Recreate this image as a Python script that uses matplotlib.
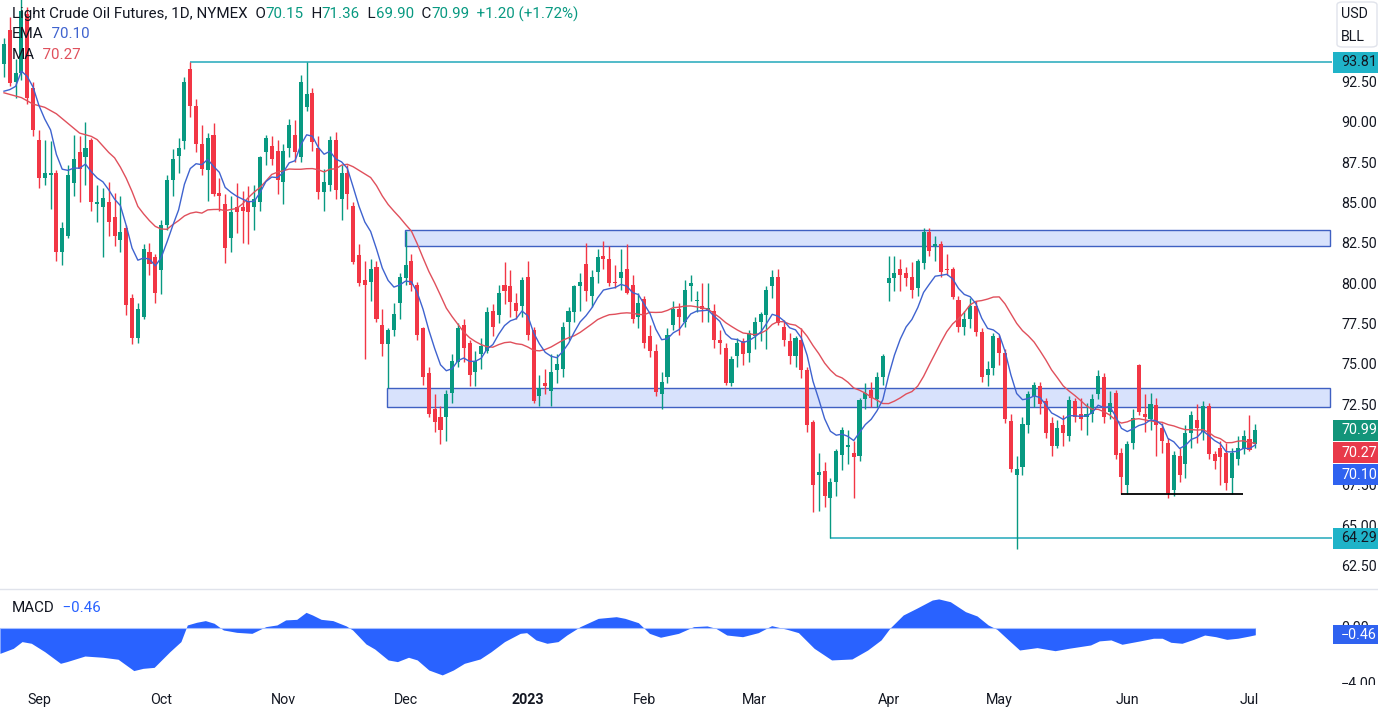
import numpy as np
import pandas as pd
import matplotlib
matplotlib.use("Agg")
import matplotlib.pyplot as plt
from matplotlib.patches import Rectangle, FancyBboxPatch
from matplotlib.lines import Line2D
from matplotlib.transforms import blended_transform_factory

# ---- data (daily bars, 24 Aug 2022 .. 5 Jul 2023) ----
opens = [93.7, 95.8, 92.6, 93.1, 96.8, 92.2, 89.0, 86.6, 86.8, 86.9,
         82.0, 83.0, 86.3, 88.2, 87.9, 89.0, 85.0, 84.8, 85.1, 84.2,
         82.8, 83.5, 79.2, 76.7, 78.0, 82.0, 81.7, 80.9, 83.7, 86.5,
         88.0, 88.9, 93.4, 91.1, 88.7, 87.1, 89.3, 85.7, 85.0, 82.9,
         84.8, 84.8, 85.2, 84.8, 85.1, 88.2, 88.6, 88.3, 86.4, 88.5,
         89.3, 87.9, 91.0, 91.9, 88.5, 85.75, 86.2, 89.0, 85.3, 86.9,
         84.9, 81.85, 80.3, 80.2, 81.1, 77.5, 76.3, 77.2, 78.9, 80.4,
         81.5, 80.0, 77.3, 74.5, 72.3, 71.8, 71.8, 73.3, 75.2, 77.5,
         76.4, 74.6, 75.7, 75.9, 78.4, 78.1, 80.0, 79.9, 78.9, 78.7,
         80.5, 77.2, 73.1, 73.9, 73.4, 74.7, 74.8, 77.7, 78.3, 79.9,
         81.3, 79.3, 80.8, 81.8, 81.6, 80.2, 80.4, 81.0, 80.0, 78.0,
         79.1, 76.8, 75.9, 73.2, 74.3, 77.5, 78.5, 77.7, 79.9, 79.0,
         78.7, 78.45, 78.4, 76.6, 76.1, 73.9, 75.6, 76.5, 75.8, 76.8,
         77.7, 78.1, 79.9, 80.5, 77.4, 76.5, 75.6, 76.6, 74.7, 71.5,
         68.2, 68.45, 66.8, 67.8, 69.45, 69.95, 69.6, 69.4, 72.9, 73.5,
         72.9, 74.3, 80.1, 80.4, 81.0, 80.7, 80.5, 79.8, 81.35, 83.3,
         82.4, 82.5, 81.0, 81.0, 79.05, 77.4, 77.9, 78.7, 77.07, 74.4,
         74.85, 76.7, 75.8, 71.55, 68.2, 68.7, 71.3, 73.1, 73.7, 72.8,
         71.4, 70.0, 71.3, 70.6, 72.8, 72.0, 71.8, 72.0, 73.2, 74.3,
         72.1, 73.3, 69.6, 67.6, 70.2, 75.0, 72.0, 71.7, 72.55, 71.1,
         70.2, 67.3, 69.4, 68.9, 70.8, 71.6, 70.9, 72.5, 69.5, 69.85,
         69.55, 68.0, 69.2, 69.8, 70.45, 70.15]
highs = [95.3, 96.6, 94.0, 97.7, 97.2, 92.6, 89.6, 89.0, 88.9, 87.1,
         83.9, 87.4, 89.3, 89.2, 90.1, 89.1, 86.2, 86.0, 86.4, 85.7,
         85.5, 83.7, 79.4, 78.9, 82.5, 82.6, 81.9, 84.0, 86.8, 88.4,
         89.1, 92.9, 93.81, 91.5, 89.9, 89.4, 90.0, 86.6, 85.6, 85.5,
         86.3, 85.8, 86.1, 86.2, 88.0, 89.3, 89.2, 89.0, 88.7, 90.3,
         90.2, 93.0, 93.81, 92.2, 89.2, 87.2, 89.2, 89.5, 87.4, 87.4,
         85.1, 82.5, 81.5, 81.6, 81.5, 78.5, 77.3, 78.9, 80.7, 83.34,
         81.9, 80.2, 77.4, 74.9, 73.2, 72.5, 73.5, 75.7, 77.6, 77.9,
         76.6, 75.9, 76.7, 78.6, 78.8, 80.0, 81.4, 80.9, 79.5, 80.5,
         81.5, 77.4, 74.4, 74.8, 75.7, 75.7, 77.7, 78.6, 80.0, 80.7,
         82.6, 80.9, 82.2, 82.7, 82.4, 81.2, 82.2, 82.5, 80.6, 79.5,
         79.3, 77.5, 76.3, 74.6, 77.3, 79.0, 78.9, 80.3, 80.6, 79.6,
         80.1, 80.1, 78.8, 77.2, 76.4, 75.6, 76.7, 76.7, 77.2, 78.0,
         78.3, 79.9, 80.9, 81.0, 77.8, 77.0, 76.8, 77.3, 74.9, 71.6,
         69.6, 69.0, 68.0, 69.8, 71.2, 71.0, 70.3, 73.0, 73.9, 74.0,
         74.6, 75.7, 81.8, 81.8, 81.6, 81.1, 81.4, 81.6, 83.5, 83.5,
         83.0, 82.7, 81.9, 81.1, 79.3, 78.4, 79.2, 79.0, 77.3, 75.3,
         77.0, 76.9, 76.0, 72.0, 69.4, 71.8, 73.4, 74.0, 74.0, 73.0,
         71.8, 71.6, 71.9, 73.1, 73.0, 73.0, 72.7, 73.2, 74.7, 74.5,
         73.4, 73.5, 69.9, 70.3, 72.3, 75.1, 73.2, 73.3, 73.0, 71.4,
         70.5, 69.7, 69.9, 71.3, 72.2, 72.6, 72.8, 72.7, 69.7, 70.3,
         70.2, 69.9, 70.6, 71.0, 71.9, 71.36]
lows = [92.9, 92.3, 91.6, 92.7, 91.2, 89.2, 86.0, 86.2, 84.7, 81.5,
        81.2, 82.9, 85.5, 85.1, 86.2, 84.6, 83.9, 81.7, 83.0, 82.4,
        82.0, 78.1, 76.3, 76.4, 77.9, 80.6, 78.9, 79.4, 83.4, 85.5,
        86.9, 88.4, 90.4, 88.2, 86.8, 85.2, 85.5, 84.6, 81.35, 82.0,
        83.2, 82.6, 82.5, 83.4, 84.6, 87.4, 87.4, 85.6, 85.0, 87.9,
        87.6, 87.6, 90.8, 88.3, 85.3, 84.6, 85.8, 85.3, 84.0, 84.7,
        81.3, 79.9, 75.4, 79.0, 77.7, 75.6, 73.6, 76.8, 77.9, 80.0,
        79.6, 76.6, 73.8, 71.8, 70.9, 70.1, 70.3, 72.7, 74.9, 75.2,
        73.7, 73.7, 74.8, 75.8, 76.8, 77.6, 78.8, 78.0, 77.9, 78.0,
        76.6, 72.7, 72.5, 73.2, 72.5, 73.9, 74.3, 76.6, 77.7, 78.4,
        79.0, 78.6, 80.1, 81.0, 79.9, 79.8, 79.7, 79.4, 77.6, 77.3,
        76.1, 75.5, 73.1, 72.3, 73.9, 77.2, 76.9, 77.4, 79.0, 78.3,
        77.7, 77.7, 76.1, 75.7, 73.8, 73.7, 74.9, 75.0, 75.2, 76.0,
        76.5, 76.0, 79.2, 77.5, 76.2, 75.1, 74.9, 74.2, 70.9, 65.9,
        66.0, 66.2, 64.29, 66.9, 68.5, 68.9, 66.8, 69.1, 72.3, 72.4,
        72.4, 73.8, 79.0, 79.6, 79.6, 79.9, 79.2, 79.3, 81.0, 81.8,
        81.5, 80.5, 80.6, 79.1, 77.1, 76.9, 77.3, 76.8, 74.0, 73.7,
        74.4, 75.0, 71.4, 68.4, 63.64, 68.2, 70.8, 72.4, 72.0, 70.5,
        69.4, 69.9, 70.0, 70.3, 71.5, 71.0, 70.7, 71.5, 72.9, 71.4,
        71.7, 69.2, 67.03, 67.0, 69.8, 71.9, 70.9, 71.0, 69.4, 69.6,
        66.8, 66.9, 67.8, 68.0, 69.9, 70.2, 70.4, 69.2, 68.6, 67.6,
        67.3, 67.0, 68.8, 69.5, 69.7, 69.9]
closes = [94.9, 92.5, 93.1, 97.0, 91.6, 89.6, 86.6, 86.9, 86.9, 82.0,
          83.5, 86.8, 87.8, 87.2, 88.5, 85.1, 85.1, 85.4, 83.9, 83.0,
          83.3, 78.75, 76.7, 78.5, 82.2, 81.3, 79.5, 83.7, 86.5, 87.8,
          88.5, 92.6, 91.1, 88.7, 87.2, 89.1, 85.6, 85.5, 82.3, 84.5,
          84.5, 84.6, 84.5, 85.3, 87.9, 89.1, 87.8, 86.5, 88.3, 89.9,
          88.2, 92.6, 91.8, 88.85, 85.75, 86.4, 89.0, 85.9, 86.9, 85.6,
          81.4, 80.1, 80.0, 80.95, 77.9, 76.3, 77.2, 78.2, 80.5, 81.2,
          80.0, 76.9, 74.3, 72.0, 71.5, 71.0, 73.2, 75.3, 77.3, 76.1,
          74.4, 75.3, 76.2, 78.3, 77.4, 79.5, 79.6, 78.95, 78.4, 80.3,
          76.9, 72.8, 73.6, 73.7, 74.6, 75.1, 77.4, 78.4, 79.9, 80.2,
          79.6, 80.5, 81.7, 81.6, 80.1, 80.1, 80.8, 79.5, 77.9, 78.9,
          76.4, 75.9, 73.35, 74.0, 76.9, 78.5, 78.0, 79.7, 80.1, 79.05,
          78.5, 78.55, 76.6, 76.4, 73.9, 75.4, 76.4, 75.7, 77.0, 77.7,
          78.2, 79.7, 80.5, 77.6, 76.6, 75.6, 76.7, 74.7, 71.3, 67.6,
          68.4, 66.9, 67.8, 69.7, 71.0, 70.05, 69.3, 72.85, 73.3, 72.95,
          74.3, 75.6, 80.4, 80.7, 80.6, 80.4, 79.7, 81.5, 83.3, 82.1,
          82.5, 80.8, 80.9, 79.25, 77.4, 77.9, 78.7, 77.1, 74.3, 74.8,
          76.8, 75.8, 71.7, 68.6, 68.6, 71.35, 73.2, 73.8, 72.6, 70.8,
          70.0, 71.1, 70.8, 72.85, 71.8, 71.7, 72.0, 72.9, 74.35, 71.8,
          72.7, 69.45, 68.1, 70.1, 71.75, 72.1, 71.8, 72.6, 71.3, 70.3,
          67.1, 69.45, 68.2, 70.8, 71.9, 71.1, 72.5, 69.5, 69.1, 69.3,
          67.7, 69.6, 69.85, 70.6, 69.75, 70.99]

# MA(20) for the first 19 bars (no history before the window) and EMA(9) start value
ma_head = [91.9, 91.8, 91.7, 91.6, 91.4, 91.2, 91.1, 91.0, 90.8, 90.6,
           90.3, 90.0, 89.7, 89.4, 89.3, 89.2, 89.0, 88.6, 88.2]
ema_seed = 92.0

# MACD pane, read at bar positions
macd_idx = [-0.7, 1.6, 3.1, 4.7, 7.0, 9.7, 10.8, 13.9, 17.0, 19.6, 22.3, 23.9, 25.8,
            28.5, 30.4, 31.5, 33.1, 34.6, 36.1, 37.7, 40.0, 42.6, 45.0, 46.9, 48.4,
            50.3, 51.9, 53.0, 54.5, 56.5, 58.8, 59.9, 62.2, 63.7, 66.0, 67.6, 69.5,
            71.0, 73.0, 75.3, 77.2, 79.1, 81.8, 83.7, 86.0, 88.7, 89.8, 91.4, 93.3,
            95.2, 96.7, 99.0, 102.1, 105.2, 106.7, 109.0, 110.9, 112.8, 115.9, 118.5,
            120.8, 122.3, 124.2, 126.9, 129.6, 131.9, 134.5, 136.5, 139.2, 142.2,
            145.7, 148.4, 150.7, 152.2, 154.5, 156.8, 159.5, 160.6, 162.6, 165.2,
            167.2, 169.1, 170.6, 172.9, 174.5, 177.5, 180.6, 182.9, 186.7, 188.2,
            190.2, 192.1, 195.2, 197.5, 199.0, 200.5, 202.4, 204.4, 206.3, 208.2,
            210.1, 212.0, 214.0, 215.0]
macd_val = [-1.79, -1.43, -0.95, -1.07, -1.67, -2.50, -2.38, -1.98, -2.07, -2.21, -3.02,
            -2.86, -2.79, -1.67, -0.95, 0.24, 0.43, 0.55, 0.36, -0.12, -0.29, -0.36,
            0.12, 0.24, 0.60, 0.64, 1.14, 0.95, 0.64, 0.55, 0.17, -0.12, -1.12, -1.48,
            -2.26, -2.38, -2.07, -2.26, -2.98, -3.33, -2.98, -2.50, -2.19, -1.67, -0.95,
            -0.36, -0.31, -0.83, -1.07, -0.95, -0.48, 0.12, 0.71, 0.83, 0.71, 0.40,
            -0.36, -0.64, -0.36, 0.12, 0.17, 0.00, -0.48, -0.60, -0.31, 0.19, -0.07,
            -0.31, -1.43, -2.26, -2.19, -1.55, -0.83, 0.00, 0.95, 1.43, 2.02, 2.10,
            1.90, 1.19, 0.88, 0.24, -0.07, -0.95, -1.55, -1.38, -1.60, -1.43, -1.19,
            -0.90, -0.83, -1.14, -0.90, -0.71, -0.71, -1.00, -1.07, -0.79, -0.48,
            -0.60, -0.79, -0.71, -0.55, -0.46]

month_idx = [6, 27, 48, 69, 90, 110, 129, 152, 171, 193, 214]
month_lbl = ["Sep", "Oct", "Nov", "Dec", "2023", "Feb", "Mar", "Apr", "May", "Jun", "Jul"]
price_ticks = [92.5, 90.0, 87.5, 85.0, 82.5, 80.0, 77.5, 75.0, 72.5, 67.5, 65.0, 62.5]
macd_ticks = [0.0, -4.0]

res_zone = (82.40, 83.39)
sup_zone = (72.40, 73.60)
hi_level = 93.81
lo_level = 64.29
base_level = 67.03

# ---- style ----
plt.rcParams['font.family'] = ['Roboto', 'DejaVu Sans']
GREEN = '#089981'
RED = '#f23645'
BLUE = '#2962ff'
CYAN = '#22a8bb'
TXT = '#131722'
FS = 10.3
LFS = 10.9

W, H = 1378, 712
fig = plt.figure(figsize=(W / 100, H / 100), dpi=100)


def px(x0, y0, x1, y1):
    return [x0 / W, 1 - y1 / H, (x1 - x0) / W, (y1 - y0) / H]


ax = fig.add_axes(px(0, 0, 1332, 588))
axp = fig.add_axes(px(1332, 0, W, 588))
axm = fig.add_axes(px(0, 590, 1332, 688))
axmp = fig.add_axes(px(1332, 590, W, 685))

XMIN, XMAX = -0.687, 228.18
PMIN, PMAX = 61.20, 97.654
for a in (ax, axm):
    a.set_xlim(XMIN, XMAX)
for a in (ax, axp):
    a.set_ylim(PMIN, PMAX)
axm.set_ylim(-4.264, 2.736)
axmp.set_ylim(-4.05, 2.736)
for a in (axp, axmp):
    a.set_xlim(0, 1)
for a in (ax, axp, axm, axmp):
    a.axis('off')

# ---- candles ----
o = np.array(opens)
h = np.array(highs)
l = np.array(lows)
c = np.array(closes)
idx = np.arange(len(c))
col = np.where(c >= o, GREEN, RED)
ax.vlines(idx, l, h, colors=col, lw=1, zorder=3)
ax.bar(idx, np.maximum(np.abs(c - o), 0.07), bottom=np.minimum(o, c), width=0.7,
       color=col, linewidth=0, zorder=4)

# moving averages
ma = pd.Series(closes).rolling(20).mean().to_numpy()
ma[:19] = ma_head
ema = [ema_seed]
for v in closes[1:]:
    ema.append(ema[-1] + 0.2 * (v - ema[-1]))
ax.plot(idx, ma, color='#e0505c', lw=1.0, zorder=5)
ax.plot(idx, ema, color='#3f63cf', lw=1.0, zorder=5)

# zones and levels
for x0, (lo, hi) in [(68.9, res_zone), (65.8, sup_zone)]:
    ax.add_patch(Rectangle((x0, lo), XMAX - 0.3 - x0, hi - lo,
                           fc='#d8e2fc', ec='#3f60c2', lw=1.0, zorder=2))
ax.hlines(hi_level, 31.96, XMAX, color=CYAN, lw=1.1, zorder=2)
ax.hlines(lo_level, 141.9, XMAX, color=CYAN, lw=1.1, zorder=2)
ax.hlines(base_level, 191.9, 212.9, color='black', lw=1.3, zorder=6)

# ---- legend text ----
def chain(axis, parts, x, y, size):
    prev = axis.text(x, y, parts[0][0], color=parts[0][1], fontsize=size,
                     transform=axis.transAxes, va='center', ha='left', zorder=10)
    for txt, clr in parts[1:]:
        prev = axis.annotate(txt, xy=(1, 0.5), xycoords=prev, color=clr, fontsize=size,
                             va='center', ha='left', zorder=10)


lx = 12 / 1332
chain(ax, [("Light Crude Oil Futures, 1D, NYMEX", TXT), ("  O", TXT), ("70.15", GREEN),
           ("  H", TXT), ("71.36", GREEN), ("  L", TXT), ("69.90", GREEN),
           ("  C", TXT), ("70.99", GREEN), ("  +1.20 (+1.72%)", GREEN)],
      lx, 1 - 14 / 588, LFS)
chain(ax, [("EMA", TXT), ("  70.10", '#3f63cf')], lx, 1 - 34 / 588, LFS)
chain(ax, [("MA", TXT), ("  70.27", '#e0505c')], lx, 1 - 55 / 588, LFS)

# ---- price scale ----
for p in price_ticks:
    axp.text(0.2, p, f"{p:.2f}", fontsize=FS, color=TXT, va='center', ha='left')

hh = 10.5 / 16.13
for yc, lbl, bg, fg in [(hi_level, "93.81", '#1fb3c8', TXT),
                        (70.99, "70.99", '#12957a', 'white'),
                        (69.60, "70.27", '#e83a4a', 'white'),
                        (68.21, "70.10", '#2f62f0', 'white'),
                        (lo_level, "64.29", '#1fb3c8', TXT)]:
    axp.add_patch(Rectangle((0.02, yc - hh), 0.98, 2 * hh, fc=bg, ec='none', zorder=5))
    axp.text(0.2, yc, lbl, fontsize=FS, color=fg, va='center', ha='left', zorder=6)

fig.patches.append(FancyBboxPatch((1337 / W, 1 - 47 / H), 40 / W, 45 / H,
                                  boxstyle="round,pad=0,rounding_size=0.004",
                                  transform=fig.transFigure, fc='white', ec='#e0e3eb', lw=1))
fig.text(1341 / W, 1 - 14 / H, "USD", fontsize=FS, color=TXT, va='center', ha='left')
fig.text(1341 / W, 1 - 37 / H, "BLL", fontsize=FS, color=TXT, va='center', ha='left')

# pane separator
fig.add_artist(Line2D([0, 1], [1 - 589 / H, 1 - 589 / H], color='#e0e3eb', lw=1))

# ---- MACD pane ----
axm.fill_between(macd_idx, macd_val, 0, color=BLUE, lw=0)
axm.plot([macd_idx[0], macd_idx[-1]], [0, 0], color='#a9c1ff', lw=0.8)
chain(axm, [("MACD", TXT), ("  \u22120.46", BLUE)], 12 / 1332, 1 - 18 / 98, LFS)

# the 0.00 tick sits mostly behind the last-value tag, as on the original
for v in macd_ticks:
    axmp.text(0.2, v, f"{v:.2f}".replace("-", "\u2212"), fontsize=FS, color=TXT,
              va='center', ha='left', clip_on=True)
mh = 9.5 / 14
axmp.add_patch(Rectangle((0.02, macd_val[-1] - mh), 0.98, 2 * mh, fc='#2f62f0', ec='none', zorder=5))
axmp.text(0.2, macd_val[-1], "\u22120.46", fontsize=FS, color='white', va='center',
          ha='left', zorder=6)

# ---- time axis ----
tr = blended_transform_factory(axm.transData, axm.transAxes)
for i, lbl in zip(month_idx, month_lbl):
    axm.text(i, -12 / 98, lbl, transform=tr, fontsize=FS, color=TXT, ha='center',
             va='center', fontweight='bold' if lbl == "2023" else 'normal', clip_on=False)

fig.savefig("out.png", dpi=100)
